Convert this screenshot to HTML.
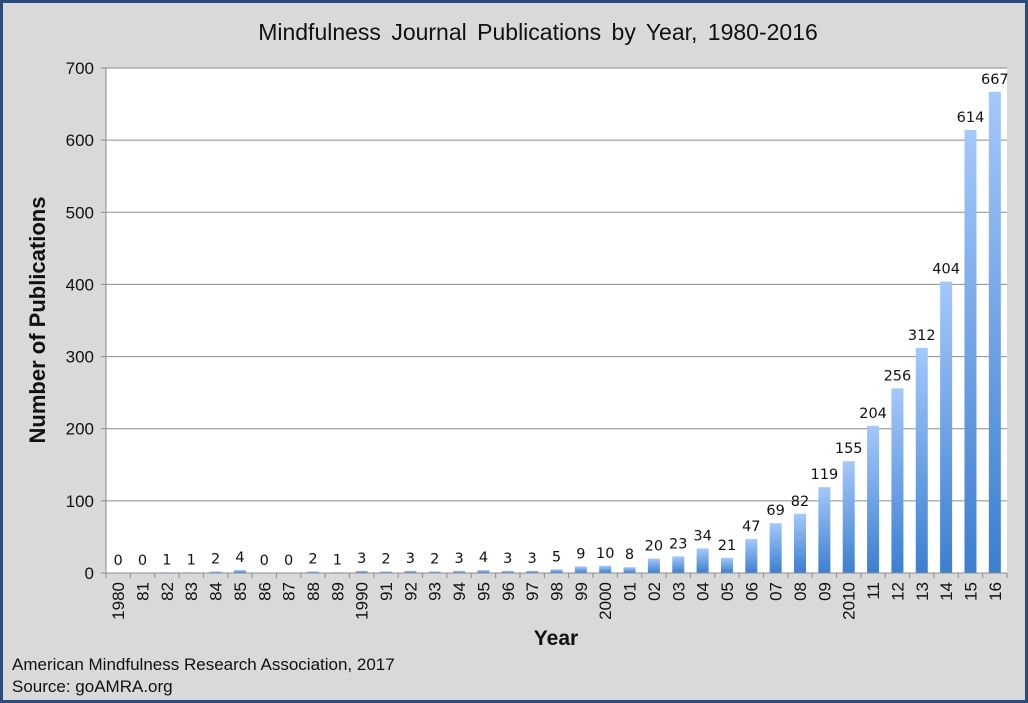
<!DOCTYPE html>
<html><head><meta charset="utf-8"><style>
html,body{margin:0;padding:0;background:#d9d9d9;}
svg{display:block;font-family:"Liberation Sans",sans-serif;}
</style></head><body>
<svg id="c" width="1028" height="703">
<rect x="1.5" y="1.5" width="1025" height="700" fill="#d9d9d9" stroke="#2e4a78" stroke-width="3"/>
<defs><linearGradient id="g" x1="0" y1="0" x2="0" y2="1"><stop offset="0" stop-color="#a4c8fb"/><stop offset="1" stop-color="#3b7fd1"/></linearGradient></defs>
<text x="538" y="40" font-size="23" text-anchor="middle" fill="#111" word-spacing="4">Mindfulness Journal Publications by Year, 1980-2016</text>
<rect x="106" y="68" width="901" height="505" fill="#fff"/>
<g id="grid"></g><g id="bars"></g><g id="labels"></g><g id="xt"></g><g id="yt"></g>
<text transform="translate(45,320) rotate(-90)" font-size="22" font-weight="bold" text-anchor="middle" fill="#111">Number of Publications</text>
<text x="556" y="645" font-size="21" font-weight="bold" text-anchor="middle" fill="#111">Year</text>
<text x="12" y="670" font-size="17" fill="#111">American Mindfulness Research Association, 2017</text>
<text x="12" y="692" font-size="17" fill="#111">Source: goAMRA.org</text>
</svg>
<script>
const categories=["1980","81","82","83","84","85","86","87","88","89","1990","91","92","93","94","95","96","97","98","99","2000","01","02","03","04","05","06","07","08","09","2010","11","12","13","14","15","16"];
const values=[0,0,1,1,2,4,0,0,2,1,3,2,3,2,3,4,3,3,5,9,10,8,20,23,34,21,47,69,82,119,155,204,256,312,404,614,667];
const yTicks=[0,100,200,300,400,500,600,700];
const NS="http://www.w3.org/2000/svg";
const L=106,R=1007,T=68,B=573,yMax=700;
const y=v=>B-(v/yMax)*(B-T);
const step=(R-L)/categories.length;
const x=i=>L+step*(i+0.5);
function mk(tag,attrs,parent,txt){const e=document.createElementNS(NS,tag);for(const k in attrs)e.setAttribute(k,attrs[k]);if(txt!==undefined)e.textContent=txt;document.getElementById(parent).appendChild(e);return e;}
yTicks.forEach(t=>{
  if(t>0){const g=mk('line',{x1:L,x2:R,y1:y(t),y2:y(t),stroke:'#8c8c8c','stroke-width':1},'grid');
  
  }
  const tk=mk('line',{x1:L-5,x2:L,y1:y(t),y2:y(t),stroke:'#8c8c8c'},'yt');
  
  
  const tl=mk('text',{x:L-12,y:y(t)+6,'font-size':17,'text-anchor':'end',fill:'#111'},'yt',String(t));
  
  
});
const ax=mk('line',{x1:L,x2:L,y1:T,y2:B,stroke:'#8c8c8c'},'yt');


const xa=mk('line',{x1:L,x2:R,y1:B,y2:B,stroke:'#8c8c8c'},'xt');


const bw=12;
categories.forEach((c,i)=>{
  const v=values[i];
  const b=mk('rect',{x:x(i)-bw/2,y:y(v),width:bw,height:B-y(v),fill:'url(#g)'},'bars');
  
  
  const lbl=mk('text',{x:x(i),y:y(v)-8,'font-size':14.5,'text-anchor':'middle',fill:'#111','font-family':'DejaVu Sans, sans-serif'},'labels',String(v));
  
  
  const tk=mk('line',{x1:L+step*i,x2:L+step*i,y1:B,y2:B+5,stroke:'#8c8c8c'},'xt');
  
  
  const tl=mk('text',{transform:`translate(${x(i)+6},${B+9}) rotate(-90)`,'font-size':17,'text-anchor':'end',fill:'#111'},'xt',c);
  
  
});
const lt=mk('line',{x1:R,x2:R,y1:B,y2:B+5,stroke:'#8c8c8c'},'xt');


</script>
</body></html>
